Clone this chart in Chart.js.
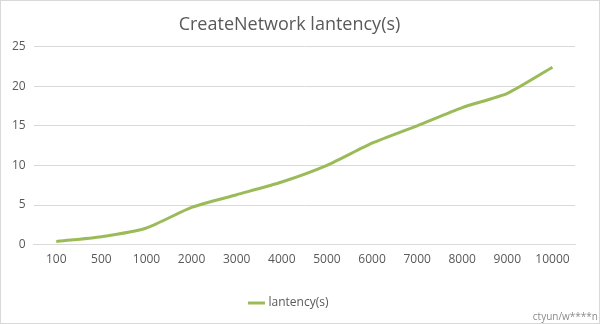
<!DOCTYPE html>
<html>
<head>
<meta charset="utf-8">
<script src="https://cdn.jsdelivr.net/npm/chart.js@4/dist/chart.umd.min.js"></script>
<style>
  html, body { margin: 0; padding: 0; background: #fff; }
  #wrap { position: relative; width: 598px; height: 322px; border: 1px solid #d9d9d9; }
  #mark { position: absolute; right: 1px; bottom: 0px; font: 10px "Open Sans", sans-serif; color: #8c8c8c; }
</style>
</head>
<body>
<div id="wrap">
  <canvas id="chart" width="598" height="322"></canvas>
  <div id="mark">ctyun/w****n</div>
</div>
<script>
// 数据
const categories = ['100', '500', '1000', '2000', '3000', '4000', '5000', '6000', '7000', '8000', '9000', '10000'];
const latency = [0.4, 1.0, 2.1, 4.7, 6.3, 7.9, 10.0, 12.8, 15.0, 17.3, 19.1, 22.4];
const yTicks = [0, 5, 10, 15, 20, 25];

const font = '"Open Sans", "Noto Sans", sans-serif';

new Chart(document.getElementById('chart'), {
    type: 'line',
    data: {
        labels: categories,
        datasets: [{
            label: 'lantency(s)',
            data: latency,
            borderColor: '#9bbb59',
            backgroundColor: '#9bbb59',
            borderWidth: 3,
            pointRadius: 0,
            tension: 0.2,
            fill: false
        }]
    },
    options: {
        responsive: false,
        animation: false,
        layout: { padding: { left: 3, right: 24, top: 9, bottom: 4 } },
        plugins: {
            title: {
                display: true,
                text: 'CreateNetwork lantency(s)',
                color: '#595959',
                font: { family: font, size: 18, weight: 'normal' },
                padding: { top: 4, bottom: 11 }
            },
            legend: {
                position: 'bottom',
                labels: {
                    color: '#595959',
                    font: { family: font, size: 12 },
                    usePointStyle: true,
                    pointStyle: 'line',
                    boxWidth: 30,
                    padding: 22
                }
            },
            tooltip: { enabled: false }
        },
        scales: {
            x: {
                offset: true,
                grid: { display: false, drawTicks: false },
                border: { display: true, color: '#d9d9d9', width: 1 },
                ticks: { color: '#595959', font: { family: font, size: 12 }, padding: 8, maxRotation: 0 }
            },
            y: {
                min: 0,
                max: 25,
                afterBuildTicks: axis => { axis.ticks = yTicks.map(v => ({ value: v })); },
                grid: { color: '#d9d9d9', drawTicks: false },
                border: { display: false },
                ticks: { color: '#595959', font: { family: font, size: 12 }, padding: 8 }
            }
        }
    }
});
</script>
</body>
</html>
